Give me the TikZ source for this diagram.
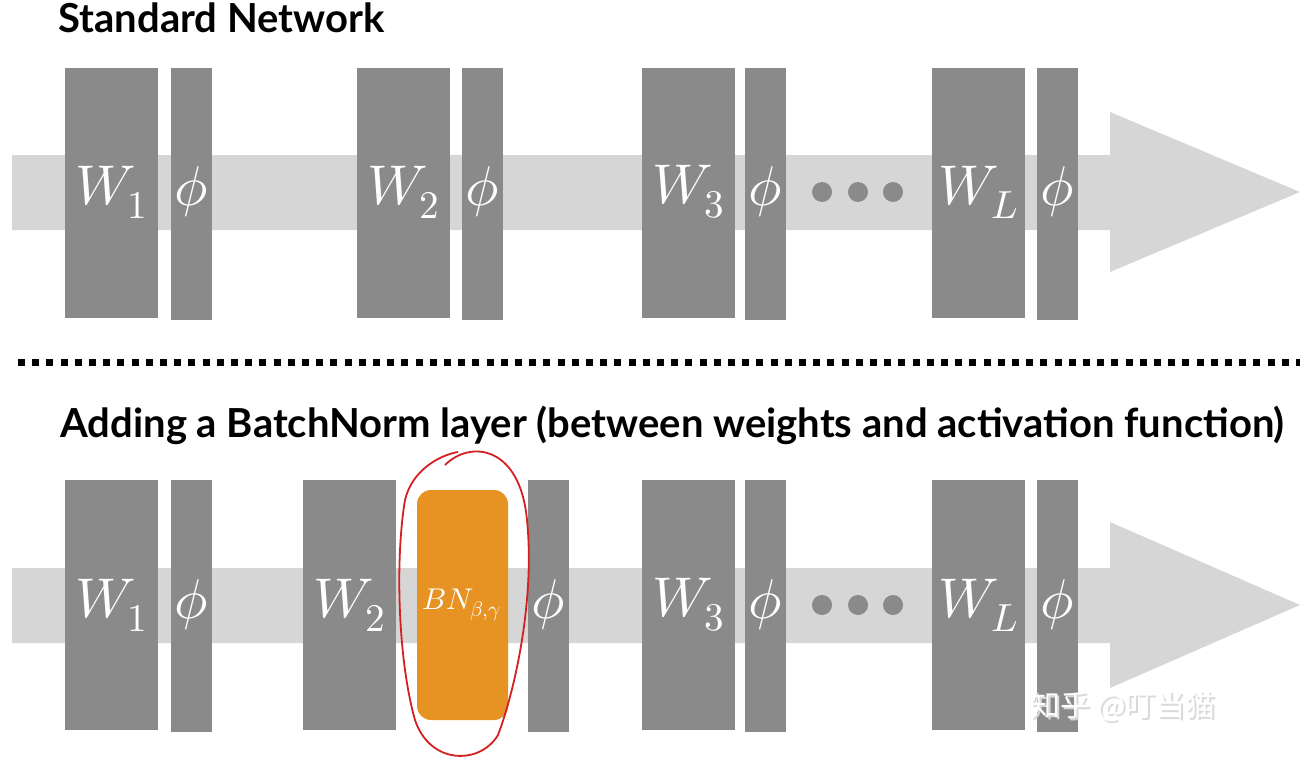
\documentclass[tikz,border=0pt]{standalone}
\usepackage{fontspec}
\usepackage{unicode-math}
\setmathfont{Latin Modern Math}
\setsansfont{Lato}
\newfontfamily\cjk{Noto Sans CJK SC}
\definecolor{blk}{HTML}{8A8A8A}
\definecolor{band}{HTML}{D6D6D6}
\definecolor{bn}{HTML}{E69323}
\definecolor{pen}{HTML}{D42020}
\begin{document}
\begin{tikzpicture}[x=1pt,y=-1pt,
  blk/.style={fill=blk,draw=none},
  lab/.style={text=white,font=\fontsize{56}{56}\selectfont},
  dot/.style={circle,fill=blk,minimum size=20pt,inner sep=0pt},
  ttl/.style={anchor=west,font=\sffamily\bfseries\fontsize{40}{40}\selectfont}]
\useasboundingbox (0,0) rectangle (1309,760);
% ---------- top ----------
\node[ttl] (t1) at (55,18) {Standard Network};
\fill[band] (12,155) -- (1110,155) -- (1110,112) -- (1300,192) -- (1110,272) -- (1110,230) -- (12,230) -- cycle;
\foreach \n/\a/\b/\c/\d/\lbl in {a/65/158/171/212/1, b/357/450/462/503/2, c/642/735/745/786/3, d/932/1025/1037/1078/L}{
  \fill[blk] (\a,68) rectangle (\b,318);
  \fill[blk] (\c,68) rectangle (\d,320);
  \node[lab] (W\n) at ({(\a+\b)/2},192) {$W_{\lbl}$};
  \node[lab] (P\n) at ({(\c+\d)/2},192) {$\phi$};
}
\node[dot] (d1) at (822,192) {};
\node[dot] (d2) at (858,192) {};
\node[dot] (d3) at (893,192) {};
% ---------- separator ----------
\draw[line width=7pt,dash pattern=on 7pt off 7.2pt] (18,362) -- (1300,362);
% ---------- bottom ----------
\node[ttl] (t2) at (57,425) {Adding a BatchNorm layer (between weights and activation function)};
\fill[band] (12,568) -- (1110,568) -- (1110,522) -- (1300,605) -- (1110,688) -- (1110,643) -- (12,643) -- cycle;
\foreach \n/\a/\b/\c/\d/\lbl in {a/65/158/171/212/1, b/303/396/528/569/2, c/642/735/745/786/3, d/932/1025/1037/1078/L}{
  \fill[blk] (\a,480) rectangle (\b,730);
  \fill[blk] (\c,480) rectangle (\d,732);
  \node[lab] (V\n) at ({(\a+\b)/2},605) {$W_{\lbl}$};
  \node[lab] (Q\n) at ({(\c+\d)/2},605) {$\phi$};
}
\fill[bn,rounded corners=14pt] (417,490) rectangle (508,720);
\node[text=white,font=\fontsize{30}{30}\selectfont] (BN) at (462,605) {$BN_{\beta,\gamma}$};
\node[dot] (e1) at (822,605) {};
\node[dot] (e2) at (858,605) {};
\node[dot] (e3) at (893,605) {};
\draw[pen,line width=1.8pt] (445,465) .. controls (470,440) and (520,445) .. (527,520)
  .. controls (535,600) and (515,690) .. (498,735)
  .. controls (480,765) and (430,765) .. (415,720)
  .. controls (398,660) and (395,560) .. (405,500)
  .. controls (412,470) and (440,455) .. (458,452);
\node[anchor=west,text=black!15,font=\cjk\fontsize{30}{30}\selectfont] (wm) at (1029,708) {知乎 @叮当猫};
\node[anchor=west,text=white,font=\cjk\fontsize{30}{30}\selectfont] (wm2) at (1027,706) {知乎 @叮当猫};
\end{tikzpicture}
\end{document}
